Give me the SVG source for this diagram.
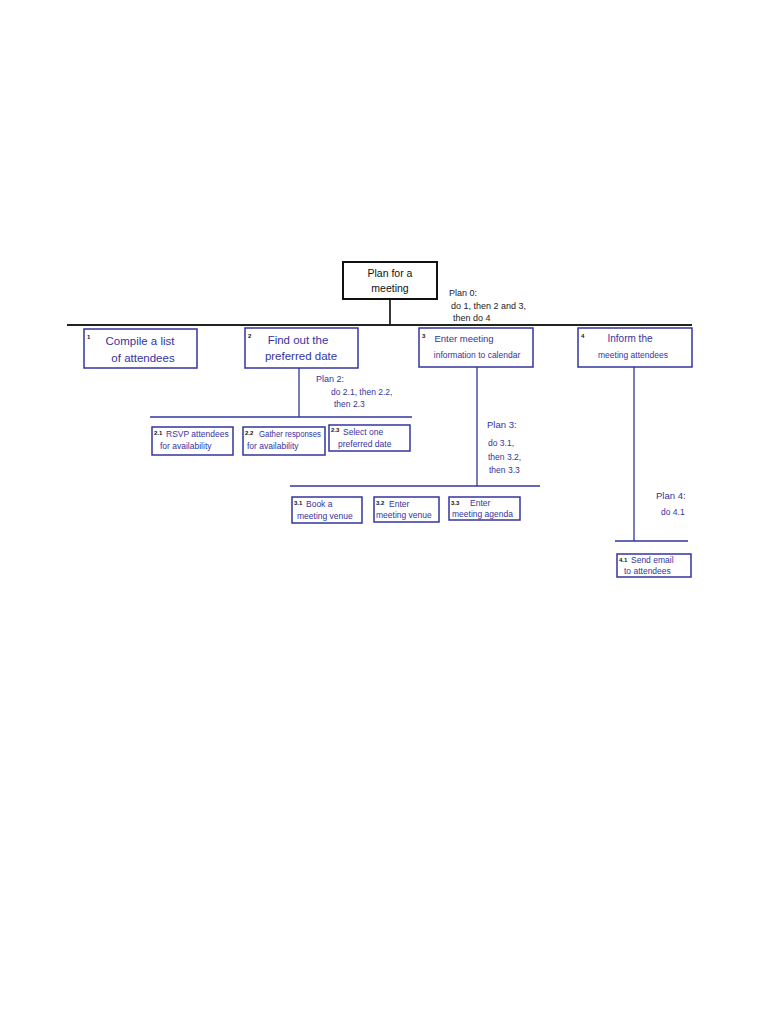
<svg xmlns="http://www.w3.org/2000/svg" width="768" height="1024" viewBox="0 0 768 1024">
<style>
.b{fill:#fff;stroke:#3434a0;stroke-width:1.5}
.r{fill:#fff;stroke:#111;stroke-width:2}
.l{stroke:#3434a0;stroke-width:1.3;fill:none}
.k{stroke:#222;stroke-width:1.8;fill:none}
text{font-family:"Liberation Sans",Arial,sans-serif;fill:#3434a0}
.t1{font-size:11.5px}
.t2{font-size:8.5px}
.n{font-size:6px;font-weight:bold;fill:#111}
.p{font-size:9px;fill:#222}
.pb{font-size:9.5px}
.rt{font-size:10.5px;fill:#111}
</style>
<rect width="768" height="1024" fill="#fff"/>
<g id="connectors">
<line class="k" x1="390" y1="299" x2="390" y2="325"/>
<line class="k" x1="67" y1="325" x2="692" y2="325"/>
<line class="l" x1="299" y1="368" x2="299" y2="417"/>
<line class="l" x1="150" y1="417" x2="412" y2="417"/>
<line class="l" x1="477" y1="367" x2="477" y2="486"/>
<line class="l" x1="290" y1="486" x2="540" y2="486"/>
<line class="l" x1="634" y1="367" x2="634" y2="541"/>
<line class="l" x1="615" y1="541" x2="688" y2="541"/>
</g>
<g id="root">
<rect class="r" x="343" y="262" width="94" height="37"/>
<text class="rt" x="390" y="277" text-anchor="middle">Plan for a</text>
<text class="rt" x="390" y="292" text-anchor="middle">meeting</text>
</g>
<g id="plan0">
<text class="p" x="449" y="296">Plan 0:</text>
<text class="p" x="451" y="309">do 1, then 2 and 3,</text>
<text class="p" x="453" y="321">then do 4</text>
</g>
<g id="n1">
<rect class="b" x="84" y="329" width="113" height="39"/>
<text class="n" x="87" y="339">1</text>
<text class="t1" x="140" y="345" text-anchor="middle">Compile a list</text>
<text class="t1" x="143" y="362" text-anchor="middle">of attendees</text>
</g>
<g id="n2">
<rect class="b" x="245" y="328" width="113" height="40"/>
<text class="n" x="248" y="338">2</text>
<text class="t1" x="298" y="344" text-anchor="middle">Find out the</text>
<text class="t1" x="301" y="360" text-anchor="middle">preferred date</text>
</g>
<g id="n3">
<rect class="b" x="419" y="328" width="114" height="39"/>
<text class="n" x="422" y="338">3</text>
<text class="t2" x="464" y="342" text-anchor="middle" style="font-size:9.5px">Enter meeting</text>
<text class="t2" x="477" y="358" text-anchor="middle">information to calendar</text>
</g>
<g id="n4">
<rect class="b" x="578" y="328" width="114" height="39"/>
<text class="n" x="581" y="338">4</text>
<text class="t2" x="630" y="342" text-anchor="middle" style="font-size:10px">Inform the</text>
<text class="t2" x="633" y="358" text-anchor="middle">meeting attendees</text>
</g>
<g id="plan2">
<text class="p" x="316" y="382" style="fill:#3434a0">Plan 2:</text>
<text class="p" x="331" y="395" style="fill:#3434a0;font-size:8.5px">do 2.1, then 2.2,</text>
<text class="p" x="334" y="407" style="fill:#3434a0;font-size:8.5px">then 2.3</text>
</g>
<g id="n21">
<rect class="b" x="152" y="427" width="81" height="28"/>
<text class="n" x="154" y="435">2.1</text>
<text class="t2" x="166" y="437">RSVP attendees</text>
<text class="t2" x="160" y="449">for availability</text>
</g>
<g id="n22">
<rect class="b" x="243" y="427" width="82" height="28"/>
<text class="n" x="245" y="435">2.2</text>
<text class="t2" x="259" y="437" textLength="62" lengthAdjust="spacingAndGlyphs">Gather responses</text>
<text class="t2" x="247" y="449">for availability</text>
</g>
<g id="n23">
<rect class="b" x="329" y="425" width="81" height="26"/>
<text class="n" x="331" y="432">2.3</text>
<text class="t2" x="343" y="435">Select one</text>
<text class="t2" x="338" y="447">preferred date</text>
</g>
<g id="plan3">
<text class="pb" x="487" y="428">Plan 3:</text>
<text class="t2" x="488" y="446">do 3.1,</text>
<text class="t2" x="488" y="460">then 3.2,</text>
<text class="t2" x="489" y="473">then 3.3</text>
</g>
<g id="n31">
<rect class="b" x="292" y="497" width="70" height="26"/>
<text class="n" x="294" y="505">3.1</text>
<text class="t2" x="306" y="507">Book a</text>
<text class="t2" x="297" y="519">meeting venue</text>
</g>
<g id="n32">
<rect class="b" x="374" y="497" width="65" height="25"/>
<text class="n" x="376" y="505">3.2</text>
<text class="t2" x="389" y="507">Enter</text>
<text class="t2" x="376" y="518">meeting venue</text>
</g>
<g id="n33">
<rect class="b" x="449" y="497" width="71" height="23"/>
<text class="n" x="451" y="505">3.3</text>
<text class="t2" x="470" y="506">Enter</text>
<text class="t2" x="452" y="517">meeting agenda</text>
</g>
<g id="plan4">
<text class="pb" x="656" y="499">Plan 4:</text>
<text class="t2" x="661" y="515">do 4.1</text>
</g>
<g id="n41">
<rect class="b" x="617" y="554" width="74" height="23"/>
<text class="n" x="619" y="562">4.1</text>
<text class="t2" x="631" y="563">Send email</text>
<text class="t2" x="624" y="574">to attendees</text>
</g>
</svg>
